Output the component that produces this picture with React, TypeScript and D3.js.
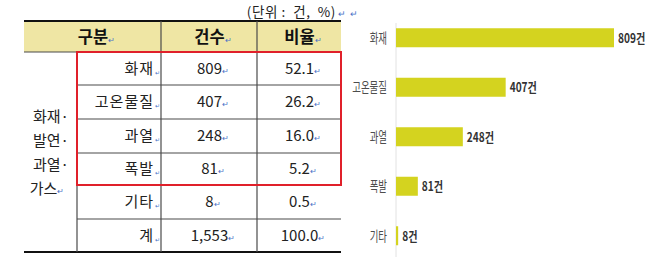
import React from "react";
import * as d3 from "d3";

const categories = ["화재", "고온물질", "과열", "폭발", "기타"];
const counts = [809, 407, 248, 81, 8];
const ratios = ["52.1", "26.2", "16.0", "5.2", "0.5"];
const totalLabel = "계";
const totalCount = "1,553";
const totalRatio = "100.0";
const headers = ["구분", "건수", "비율"];
const groupLabel = ["화재·", "발연·", "과열·", "가스"];
const unitText = "(단위 : 건, %)";

const W = 658;
const H = 261;
const FONT = "'Noto Sans CJK KR', 'Noto Sans', sans-serif";
const MARK = "#4a72c8";
const LINE = "#4a4a4a";

export default function App() {
  // table geometry
  const colX = [24, 77, 161, 257, 341];
  const rowY = [21, 52, 85, 119, 153, 185, 219, 252];

  const rows = categories.map((c, i) => ({ c, n: String(counts[i]), r: ratios[i] }));
  rows.push({ c: totalLabel, n: totalCount, r: totalRatio });

  // chart scales
  const x = d3.scaleLinear().domain([0, 809]).range([396, 614]);
  const y = d3.scalePoint<string>().domain(categories).range([13, 260.5]).padding(0.5);
  const barH = 19;

  return (
    <svg width={W} height={H} style={{ position: "absolute", left: 0, top: 0, background: "#fff" }} fontFamily={FONT}>
      {/* unit text */}
      <text x={336} y={17} textAnchor="end" fontSize={13.5} fill="#222" letterSpacing={0.6} xmlSpace="preserve">{"(단위 :  건,  %)"}</text>
      <text x={338} y={17} fontSize={9} fill={MARK}>↵</text>
      <text x={350} y={17} fontSize={9} fill={MARK}>↵</text>

      {/* header band */}
      <rect x={colX[0]} y={rowY[0]} width={colX[4] - colX[0]} height={rowY[1] - rowY[0]} fill="#efe6a4" />
      {[ (colX[0] + colX[2]) / 2, (colX[2] + colX[3]) / 2, (colX[3] + colX[4]) / 2 ].map((cx, i) => (
        <text key={i} x={cx + 4} y={(rowY[0] + rowY[1]) / 2 + 6} textAnchor="middle" fontSize={16.5} fontWeight="bold" fill="#111">
          {headers[i]}<tspan fontSize={8} fontWeight="normal" fill={MARK}>↵</tspan>
        </text>
      ))}

      {/* group label */}
      {groupLabel.map((g, i) => (
        <text key={i} x={i === 3 ? 47 : 51} y={122 + i * 24} textAnchor="middle" fontSize={15} fill="#222">
          {g}{i === 3 ? <tspan fontSize={8} fill={MARK}>↵</tspan> : null}
        </text>
      ))}

      {/* cells */}
      {rows.map((r, i) => {
        const cy = (rowY[i + 1] + rowY[i + 2]) / 2 + 5;
        return (
          <g key={i}>
            <text x={154} y={cy} textAnchor="end" fontSize={15} fill="#222" letterSpacing={1}>{r.c}</text>
            <text x={155} y={cy + 1} fontSize={6} fill={MARK}>↵</text>
            <text x={(colX[2] + colX[3]) / 2 + 4} y={cy} textAnchor="middle" fontSize={15} fill="#222">
              {r.n}<tspan fontSize={8} fill={MARK}>↵</tspan>
            </text>
            <text x={(colX[3] + colX[4]) / 2 + 4} y={cy} textAnchor="middle" fontSize={15} fill="#222">
              {r.r}<tspan fontSize={8} fill={MARK}>↵</tspan>
            </text>
          </g>
        );
      })}

      {/* table lines */}
      <line x1={colX[0]} x2={colX[4]} y1={rowY[0]} y2={rowY[0]} stroke="#111" strokeWidth={2} />
      <line x1={colX[0]} x2={colX[4]} y1={rowY[1]} y2={rowY[1]} stroke={LINE} strokeWidth={1.2} />
      {rowY.slice(2, 7).map((yy, i) => (
        <line key={i} x1={colX[1]} x2={colX[4]} y1={yy} y2={yy} stroke={LINE} strokeWidth={1.2} />
      ))}
      <line x1={colX[0]} x2={colX[4]} y1={rowY[7]} y2={rowY[7]} stroke="#111" strokeWidth={2} />
      <line x1={colX[1]} x2={colX[1]} y1={rowY[1]} y2={rowY[7]} stroke={LINE} strokeWidth={1.2} />
      <line x1={colX[2]} x2={colX[2]} y1={rowY[0]} y2={rowY[7]} stroke={LINE} strokeWidth={1.2} />
      <line x1={colX[3]} x2={colX[3]} y1={rowY[0]} y2={rowY[7]} stroke={LINE} strokeWidth={1.2} />

      {/* red highlight */}
      <rect x={colX[1]} y={rowY[1]} width={colX[4] - colX[1]} height={rowY[5] - rowY[1]} fill="none" stroke="#e0202a" strokeWidth={2} />

      {/* chart */}
      <line x1={x(0)} x2={x(0)} y1={23} y2={257} stroke="#e2e2e2" strokeWidth={1} />
      {categories.map((c, i) => {
        const cy = y(c)!;
        return (
          <g key={c}>
            <rect x={x(0)} y={cy - barH / 2} width={Math.max(x(counts[i]) - x(0), 2)} height={barH} fill="#d4d31f" />
            <text transform={`translate(387,${cy + 5}) scale(0.7,1)`} textAnchor="end" fontSize={13.5} fill="#4d4d4d">{c}</text>
            <text transform={`translate(${Math.max(x(counts[i]), x(0) + 2) + 4},${cy + 5}) scale(0.78,1)`} fontSize={13} fontWeight="bold" fill="#333">{counts[i]}건</text>
          </g>
        );
      })}
    </svg>
  );
}
